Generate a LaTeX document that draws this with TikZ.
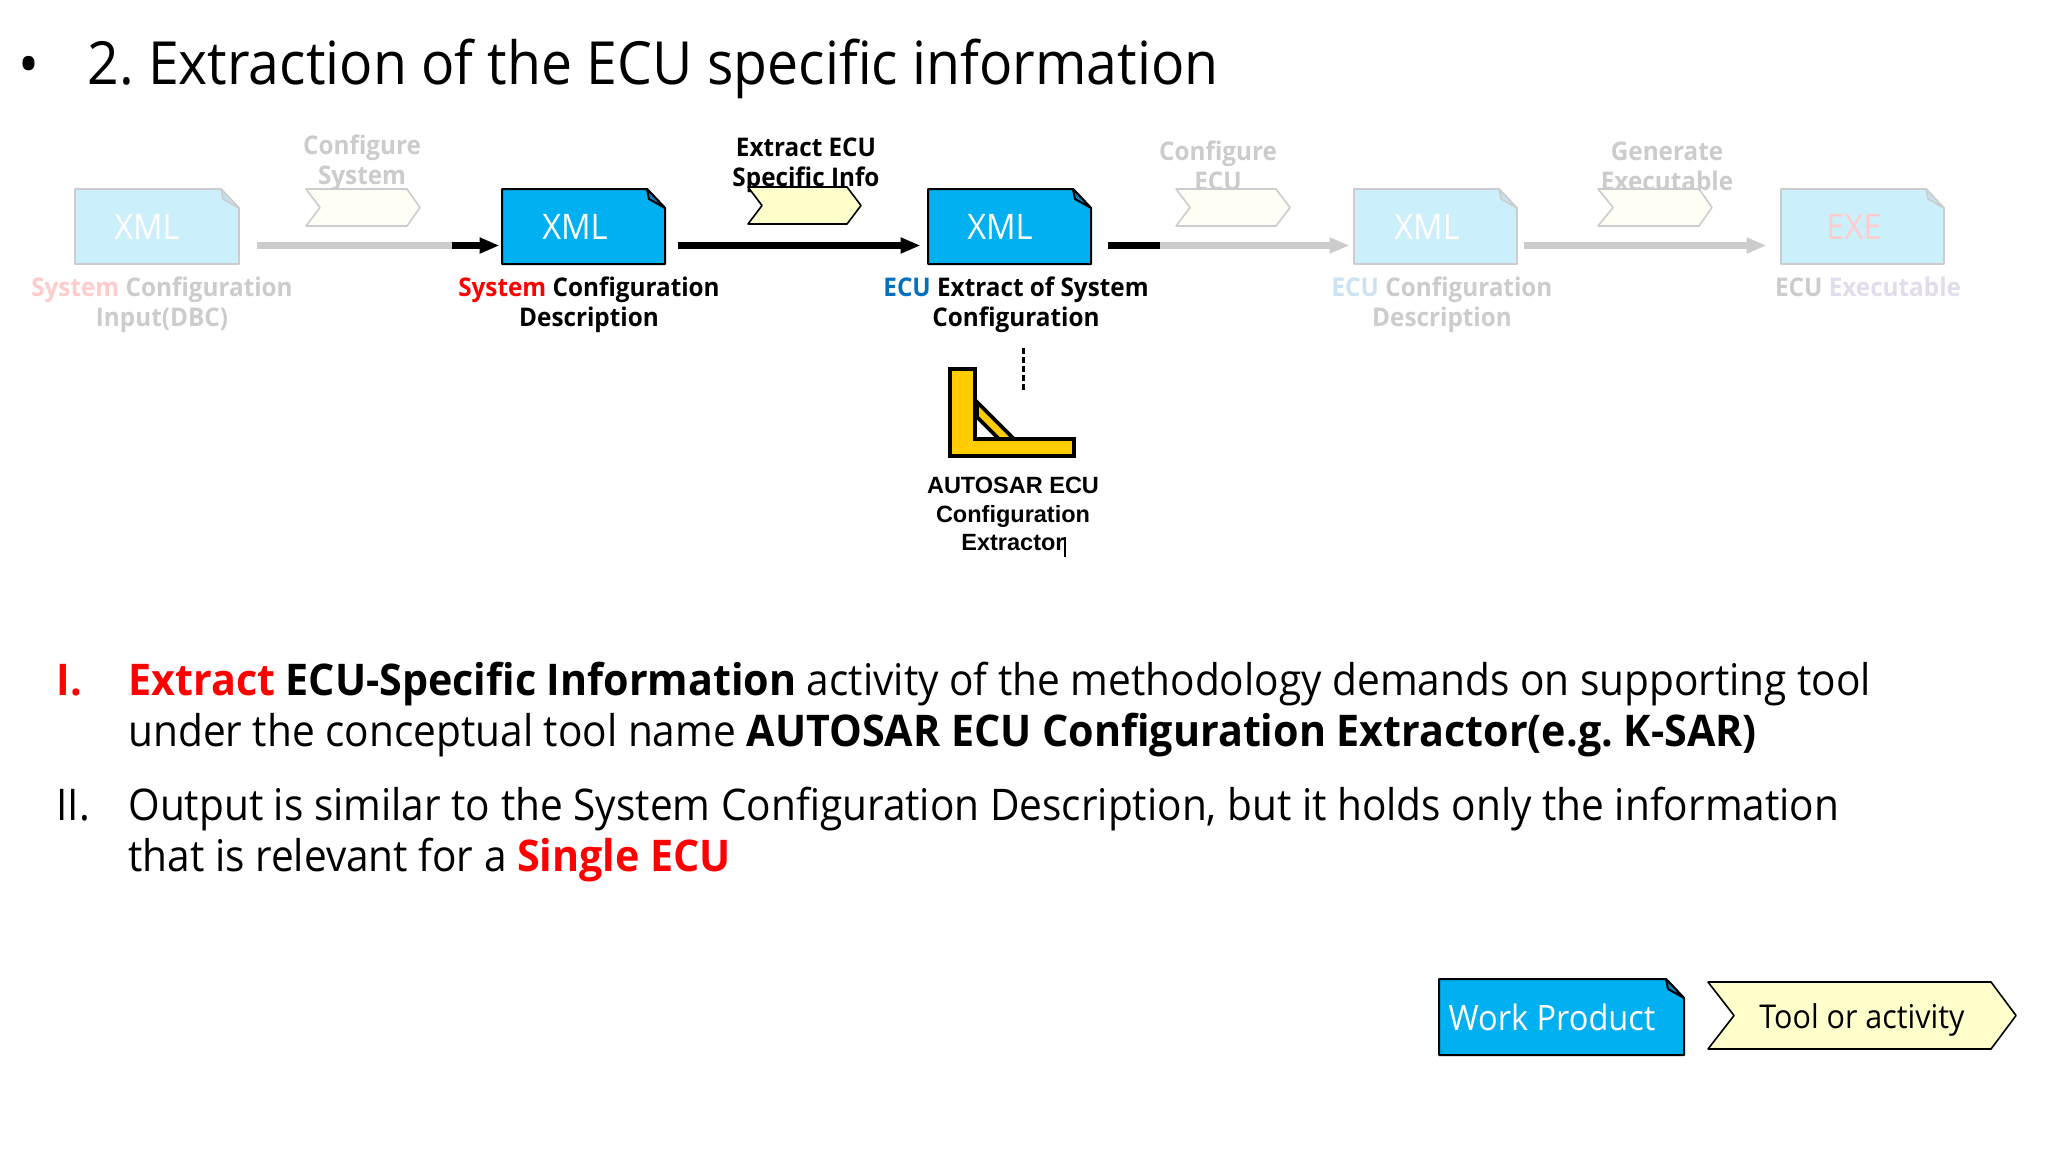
\documentclass[tikz,border=0pt]{standalone}
\usepackage{fontspec}
\usetikzlibrary{arrows.meta,calc}
\setmainfont[FakeStretch=0.93,BoldFeatures={FakeStretch=0.945}]{Open Sans}
\newfontfamily\arialf{Liberation Sans}
\definecolor{cblue}{HTML}{00B0F0}
\definecolor{cfold}{HTML}{0F85BD}
\definecolor{fblue}{HTML}{CCEFFC}
\definecolor{ffold}{HTML}{C4E3EE}
\definecolor{cyel}{HTML}{FFFFCC}
\definecolor{fyel}{HTML}{FFFEF5}
\definecolor{fgrey}{HTML}{CCCCCC}
\definecolor{fred}{HTML}{FFCCCC}
\definecolor{cecu}{HTML}{0070C0}
\definecolor{fecu}{HTML}{CCE2F2}
\definecolor{fpurp}{HTML}{E2DCEC}
\definecolor{ctool}{HTML}{FFCC00}
\tikzset{
  lbl/.style={inner sep=0pt,align=center,font=\bfseries\fontsize{12.85}{15}\selectfont},
  body/.style={inner sep=0pt,anchor=base west,font=\fontsize{21.82}{26}\selectfont},
  flow/.style={line width=3.5pt,-{Triangle[length=10pt,width=7.5pt]}},
  flowplain/.style={line width=3.5pt},
  onshape/.style={inner sep=0pt,font=\fontsize{17.6}{18}\selectfont},
}
% name, x0, x1, y0, y1, fill, fold fill, line colour, line width
\newcommand{\docshape}[9]{
  \filldraw[fill=#6,draw=#8,line width=#9,line join=round] (#2,#4) -- ({#3-18},#4) -- (#3,{#4+19}) -- (#3,#5) -- (#2,#5) -- cycle;
  \filldraw[fill=#7,draw=#8,line width=#9,line join=round] ({#3-18},#4) -- ({#3-16},{#4+10}) -- (#3,{#4+19}) -- cycle;
  \coordinate (#1) at ({(#2+#3)/2},{(#4+#5)/2});
}
% name, x0(left), notch x, upper right x, tip x, y0, y1, fill, line colour
\newcommand{\chevshape}[9]{
  \filldraw[fill=#8,draw=#9,line width=0.8pt,line join=round] (#2,#6) -- (#4,#6) -- (#5,{(#6+#7)/2}) -- (#4,#7) -- (#2,#7) -- (#3,{(#6+#7)/2}) -- cycle;
  \coordinate (#1) at ({(#2+#5)/2},{(#6+#7)/2});
}
\begin{document}
\begin{tikzpicture}[x=0.5pt,y=-0.5pt]
\frenchspacing
\useasboundingbox[fill=white] (0,0) rectangle (2048,1152);

% title
\node[inner sep=0pt] (bullet) at (29,71) {\fontsize{30}{32}\selectfont •};
\node[inner sep=0pt,anchor=base west,font=\fontsize{29.76}{32}\selectfont] (title) at (87,84) {2. Extraction of the ECU specific information};

% documents
\docshape{d1}{75}{239}{189}{264}{fblue}{ffold}{fgrey}{0.8pt}
\docshape{d2}{502}{665}{189}{264}{cblue}{cfold}{black}{1pt}
\docshape{d3}{928}{1091}{189}{264}{cblue}{cfold}{black}{1pt}
\docshape{d4}{1354}{1517}{189}{264}{fblue}{ffold}{fgrey}{0.8pt}
\docshape{d5}{1781}{1944}{189}{264}{fblue}{ffold}{fgrey}{0.8pt}
\node[onshape,text=white] (x1) at (147,227) {XML};
\node[onshape,text=white] (x2) at (575,227) {XML};
\node[onshape,text=white] (x3) at (1000,227) {XML};
\node[onshape,text=white] (x4) at (1427,227) {XML};
\node[onshape,text=fred] (x5) at (1854,227) {EXE};

% connectors
\coordinate (a1s) at ($(d1)+(100,19)$);
\coordinate (a1m) at ($(d2)+(-132,19)$);
\coordinate (a1e) at ($(d2)+(-84,19)$);
\coordinate (a2s) at ($(d2)+(94,19)$);
\coordinate (a2e) at ($(d3)+(-89,19)$);
\coordinate (a3s) at ($(d3)+(98,19)$);
\coordinate (a3m) at ($(d3)+(150,19)$);
\coordinate (a3e) at ($(d4)+(-86,19)$);
\coordinate (a4s) at ($(d4)+(88,19)$);
\coordinate (a4e) at ($(d5)+(-96,19)$);
\draw[flowplain,fgrey] (a1s) -- (a1m);
\draw[flow,black] (a1m) -- (a1e);
\draw[flow,black] (a2s) -- (a2e);
\draw[flow,fgrey] (a3m) -- (a3e);
\draw[flowplain,black] (a3s) -- (a3m);
\draw[flow,fgrey] (a4s) -- (a4e);

% activity labels (the chevrons lie over them)
\node[lbl,text=fgrey] (l1) at (362,163) {Configure\\System};
\node[lbl,text=black] (l2) at (806,165) {Extract ECU\\Specific Info};
\node[lbl,text=fgrey] (l3) at (1218,166) {Configure\\ECU};
\node[lbl,text=fgrey] (l4) at (1667,166) {Generate\\Executable};

\chevshape{c1}{306}{320}{407}{420}{189}{226}{fyel}{fgrey}
\chevshape{c2}{748}{762}{847}{861}{187}{224}{cyel}{black}
\chevshape{c3}{1176}{1190}{1276}{1290}{189}{226}{fyel}{fgrey}
\chevshape{c4}{1598}{1613}{1699}{1712}{189}{226}{fyel}{fgrey}

% work product labels
\node[lbl,text=fgrey] (w1) at (162,305) {\textcolor{fred}{System} Configuration\\Input(DBC)};
\node[lbl,text=black] (w2) at (589,305) {\textcolor{red}{System} Configuration\\Description};
\node[lbl,text=black] (w3) at (1016,305) {\textcolor{cecu}{ECU} Extract of System\\Configuration};
\node[lbl,text=fgrey] (w4) at (1442,305) {\textcolor{fecu}{ECU} Configuration\\Description};
\node[lbl,text=fgrey] (w5) at (1868,287) {ECU \textcolor{fpurp}{Executable}};

% tool
\coordinate (tooltop) at (1012,368);
\coordinate (dashtop) at (1023,348);
\draw[black,line width=1.5pt,dash pattern=on 3pt off 1.5pt] (dashtop) -- (dashtop |- tooltop) -- ++(0,22);
\draw[black,fill=ctool,line width=1.8pt,line join=miter]
  (977,402) -- (1014,439) -- (999,439) -- (977,417) -- cycle;
\draw[black,fill=ctool,line width=2pt,line join=miter]
  (950,369) -- (975,369) -- (975,439) -- (1074,439) -- (1074,456) -- (950,456) -- cycle;
\node[inner sep=0pt,align=center,font=\arialf\bfseries\fontsize{11.75}{14}\selectfont] (toolname) at (1013,514)
  {AUTOSAR ECU\\[0.3pt]Configuration\\Extractor};
\coordinate (caret) at (1065,537);
\draw[black,line width=0.6pt] (caret) -- ++(0,20);

% body
\node[body,text=red] (n1) at (56,695) {\bfseries I.};
\node[body] (t1) at (128,695) {\textcolor{red}{\bfseries Extract} \textbf{ECU-Specific Information} activity of the methodology demands on supporting tool};
\node[body] (t2) at (128,746) {under the conceptual tool name \textbf{AUTOSAR ECU Configuration Extractor(e.g. K-SAR)}};
\node[body] (n2) at (56,820) {II.};
\node[body] (t3) at (128,820) {Output is similar to the System Configuration Description, but it holds only the information};
\node[body] (t4) at (128,871) {that is relevant for a \textcolor{red}{\bfseries Single ECU}};

% legend
\docshape{wp}{1439}{1684}{979}{1055}{cblue}{cfold}{black}{1pt}
\node[inner sep=0pt,text=white,font=\fontsize{17.5}{20}\selectfont] (wpt) at (1552,1017) {Work Product};
\chevshape{ta}{1708}{1734}{1991}{2016}{982}{1049}{cyel}{black}
\node[inner sep=0pt,text=black,font=\fontsize{16.4}{20}\selectfont] (tat) at (1862,1020) {Tool or activity};
\end{tikzpicture}
\end{document}
